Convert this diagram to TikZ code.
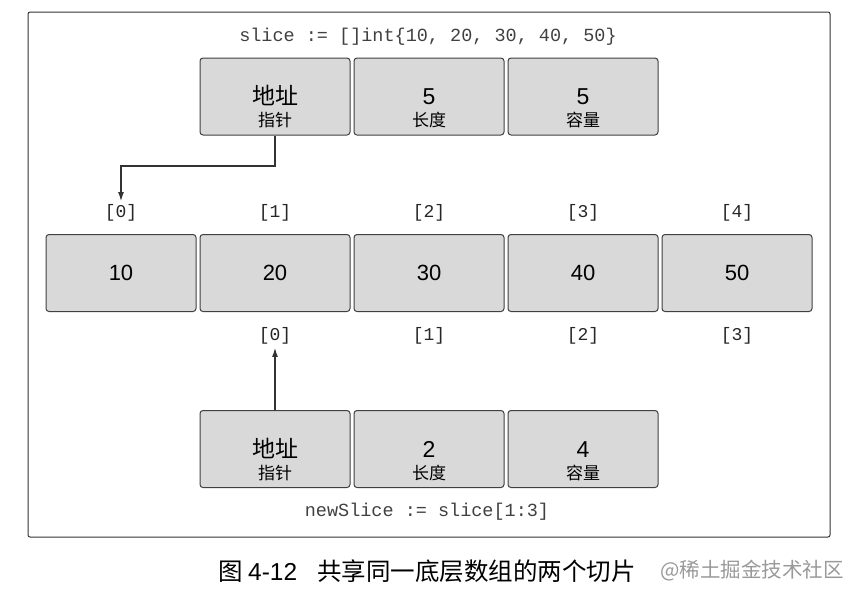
\documentclass[tikz,border=0pt]{standalone}
\usepackage{fontspec}
\usetikzlibrary{arrows.meta}
\setmainfont{Liberation Sans}
\setmonofont{Liberation Mono}
\newfontfamily\cjk{Noto Sans CJK SC}
\newcommand{\two}[2]{\raisebox{-19pt}[0pt][0pt]{\begin{tabular}{@{}c@{}}{\fontsize{23}{24}\selectfont #1}\\[-5pt]{\cjk\fontsize{17}{18}\selectfont #2}\end{tabular}}}
\begin{document}
\begin{tikzpicture}[x=1pt,y=-1pt,
  cell/.style={draw=black!75,line width=1pt,fill=black!15,rounded corners=3pt,minimum width=150pt,minimum height=77pt,inner sep=0pt,align=center,font=\fontsize{22}{27}\selectfont},
  idx/.style={font=\ttfamily\fontsize{18}{18}\selectfont,text=black!85},
  code/.style={font=\ttfamily\fontsize{18.5}{18}\selectfont,text=black!75},
  arr/.style={line width=1.1pt,draw=black!80,-{Latex[length=9pt,width=6pt]}}]
\useasboundingbox (0,0) rectangle (868,598);
\draw[line width=1pt,rounded corners=2pt,draw=black!80] (28,12) rectangle (830,537);
\node[code] (c1) at (428,37) {slice := []int\{10, 20, 30, 40, 50\}};
\node[cell] (p1) at (275,96.5) {\two{\cjk 地址}{指针}};
\node[cell] (l1) at (429,96.5) {\two{5}{长度}};
\node[cell] (k1) at (583,96.5) {\two{5}{容量}};
\foreach \v [count=\i from 0] in {10,20,30,40,50}{
  \node[cell] (a\i) at (121+154*\i,273) {\v};
  \node[idx] (t\i) at (121+154*\i,213) {[\i]};
}
\foreach \i in {0,1,2,3}{
  \node[idx] (b\i) at (275+154*\i,336) {[\i]};
}
\node[cell] (p2) at (275,449) {\two{\cjk 地址}{指针}};
\node[cell] (l2) at (429,449) {\two{2}{长度}};
\node[cell] (k2) at (583,449) {\two{4}{容量}};
\node[code] (c2) at (427,512) {newSlice := slice[1:3]};
\draw[arr] (p1.south) -- (275,166) -- (121,166) -- (t0.north);
\draw[arr] (p2.north) -- (b0.south);
\node[anchor=west,font=\cjk\fontsize{24.5}{26}\selectfont,inner sep=0pt] (cap) at (218,571) {图 {\fontspec{Liberation Sans}4-12}\hspace{20pt}共享同一底层数组的两个切片};
\node[anchor=west,font=\cjk\fontsize{20.5}{22}\selectfont,text=black!40,inner sep=0pt] (wm) at (660,571) {@稀土掘金技术社区};
\end{tikzpicture}
\end{document}
